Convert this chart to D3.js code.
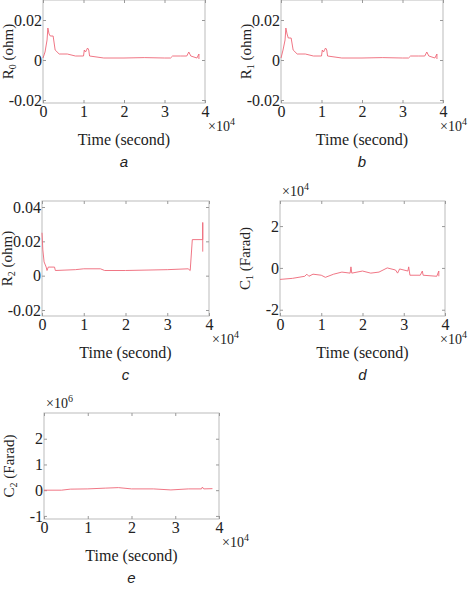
<!DOCTYPE html>
<html><head><meta charset="utf-8">
<script src="https://cdn.jsdelivr.net/npm/d3@7"></script>
<style>
body{margin:0;background:#fff}
svg text{font-family:"Liberation Serif","Times New Roman","DejaVu Serif",serif !important;fill:#222}
svg text.letter{font-family:"Liberation Sans",Arial,sans-serif !important}
</style></head><body>
<svg id="c" width="474" height="591"></svg>
<script>
// time in units of 1e4 s
const r0Data = [[0,0.001],[0.05,0.004],[0.1,0.01],[0.12,0.016],[0.15,0.013],[0.18,0.012],[0.25,0.012],[0.3,0.005],[0.4,0.003],[0.6,0.003],[0.8,0.002],[1.0,0.002],[1.02,0.005],[1.05,0.004],[1.1,0.006],[1.13,0.005],[1.15,0.002],[1.5,0.001],[2,0.001],[2.5,0.0012],[3,0.001],[3.15,0.001],[3.2,0.002],[3.4,0.002],[3.55,0.002],[3.6,0.004],[3.65,0.002],[3.8,0.001],[3.85,0.003],[3.85,0.0005]];
const r1Data = [[0,0.001],[0.05,0.005],[0.1,0.01],[0.12,0.016],[0.15,0.013],[0.18,0.011],[0.25,0.011],[0.3,0.005],[0.4,0.003],[0.6,0.003],[0.8,0.002],[1.0,0.002],[1.02,0.005],[1.05,0.004],[1.1,0.006],[1.13,0.005],[1.15,0.002],[1.5,0.001],[2,0.001],[2.5,0.0012],[3,0.001],[3.15,0.001],[3.2,0.002],[3.4,0.002],[3.55,0.002],[3.6,0.004],[3.65,0.002],[3.8,0.001],[3.85,0.003],[3.85,0.0005]];
const r2Data = [[0,0.025],[0.02,0.015],[0.05,0.008],[0.1,0.005],[0.12,0.003],[0.15,0.005],[0.3,0.005],[0.32,0.003],[0.8,0.0035],[1,0.004],[1.4,0.004],[1.5,0.003],[2,0.003],[3,0.0035],[3.5,0.004],[3.55,0.003],[3.6,0.021],[3.85,0.021],[3.85,0.031],[3.85,0.014]];
const c1Data = [[0,-0.55],[0.3,-0.5],[0.6,-0.4],[0.65,-0.3],[0.7,-0.4],[0.8,-0.3],[1,-0.35],[1.1,-0.45],[1.3,-0.3],[1.5,-0.2],[1.7,-0.25],[1.72,0.05],[1.74,-0.25],[2,-0.15],[2.2,-0.25],[2.4,-0.2],[2.6,0.0],[2.8,-0.1],[2.85,-0.25],[2.9,-0.05],[3.1,-0.15],[3.12,0.05],[3.15,-0.35],[3.4,-0.35],[3.45,-0.15],[3.47,-0.35],[3.8,-0.4],[3.85,-0.15],[3.85,-0.4]];
const c2Data = [[0,0.0],[0.4,0.0],[0.6,0.04],[1,0.05],[1.4,0.08],[1.7,0.1],[2,0.05],[2.5,0.05],[2.9,0.01],[3.3,0.05],[3.6,0.05],[3.62,0.12],[3.65,0.05],[3.85,0.06]];
const xTicks = [0,1,2,3,4];

const panels = [
  {data:r0Data, x0:43, x1:205, y0:0, y1:103, dom:[-0.0215,0.030], ticks:[-0.02,0,0.02], lab:"R", sub:"0", unit:" (ohm)", letter:"a", top:null},
  {data:r1Data, x0:281, x1:443, y0:0, y1:103, dom:[-0.0215,0.030], ticks:[-0.02,0,0.02], lab:"R", sub:"1", unit:" (ohm)", letter:"b", top:null},
  {data:r2Data, x0:42, x1:209, y0:201, y1:316, dom:[-0.0235,0.0435], ticks:[-0.02,0,0.02,0.04], lab:"R", sub:"2", unit:" (ohm)", letter:"c", top:null},
  {data:c1Data, x0:280, x1:445, y0:201, y1:316, dom:[-2.3,3.2], ticks:[-2,0,2], lab:"C", sub:"1", unit:" (Farad)", letter:"d", top:"4"},
  {data:c2Data, x0:44, x1:219, y0:413, y1:519, dom:[-1.12,3.0], ticks:[-1,0,1,2], lab:"C", sub:"2", unit:" (Farad)", letter:"e", top:"6"}
];

const svg = d3.select("#c");
panels.forEach(p => {
  const x = d3.scaleLinear().domain([0,4]).range([p.x0,p.x1]);
  const y = d3.scaleLinear().domain(p.dom).range([p.y1,p.y0]);
  const g = svg.append("g");
  g.append("rect").attr("x",p.x0).attr("y",p.y0).attr("width",p.x1-p.x0).attr("height",p.y1-p.y0)
    .attr("fill","none").attr("stroke","#bbb");
  g.append("g").attr("transform",`translate(0,${p.y1})`)
    .call(d3.axisBottom(x).tickValues(xTicks).tickFormat(d=>d).tickSize(-3).tickPadding(3));
  g.append("g").attr("transform",`translate(${p.x0},0)`)
    .call(d3.axisLeft(y).tickValues(p.ticks).tickFormat(d=>d).tickSize(-3).tickPadding(1));
  g.append("g").attr("transform",`translate(${p.x1},0)`)
    .call(d3.axisRight(y).tickValues(p.ticks).tickFormat("").tickSize(-3));
  g.append("g").attr("transform",`translate(0,${p.y0})`)
    .call(d3.axisTop(x).tickValues(xTicks).tickFormat("").tickSize(-3));
  g.selectAll(".domain").remove();
  g.selectAll(".tick line").attr("stroke","#999");
  g.selectAll(".tick text").attr("font-size",16).attr("fill","#222");
  g.append("path").datum(p.data).attr("fill","none").attr("stroke","#ee6677").attr("stroke-width",0.9)
    .attr("d",d3.line().x(d=>x(d[0])).y(d=>y(d[1])));
  const m = g.append("text").attr("x",Math.min(p.x1+3,440)).attr("y",p.y1+28).attr("font-size",14);
  m.append("tspan").text("×10");
  m.append("tspan").attr("dy",-6).attr("font-size",10).text("4");
  if (p.top) {
    const t = g.append("text").attr("x",p.x0+2).attr("y",p.y0-5).attr("font-size",14);
    t.append("tspan").text("×10");
    t.append("tspan").attr("dy",-6).attr("font-size",10).text(p.top);
  }
  const xm = (p.x0+p.x1)/2;
  g.append("text").attr("x",xm).attr("y",p.y1+42).attr("text-anchor","middle").attr("font-size",16).text("Time (second)");
  g.append("text").attr("class","letter").attr("x",xm).attr("y",p.y1+64).attr("text-anchor","middle").attr("font-size",15)
    .attr("font-style","italic").text(p.letter);
  const yl = g.append("text").attr("transform",`translate(${p.x0-30},${(p.y0+p.y1)/2}) rotate(-90)`)
    .attr("text-anchor","middle").attr("font-size",15);
  yl.append("tspan").text(p.lab);
  yl.append("tspan").attr("dy",3).attr("font-size",10).text(p.sub);
  yl.append("tspan").attr("dy",-3).text(p.unit);
});
</script></body></html>
